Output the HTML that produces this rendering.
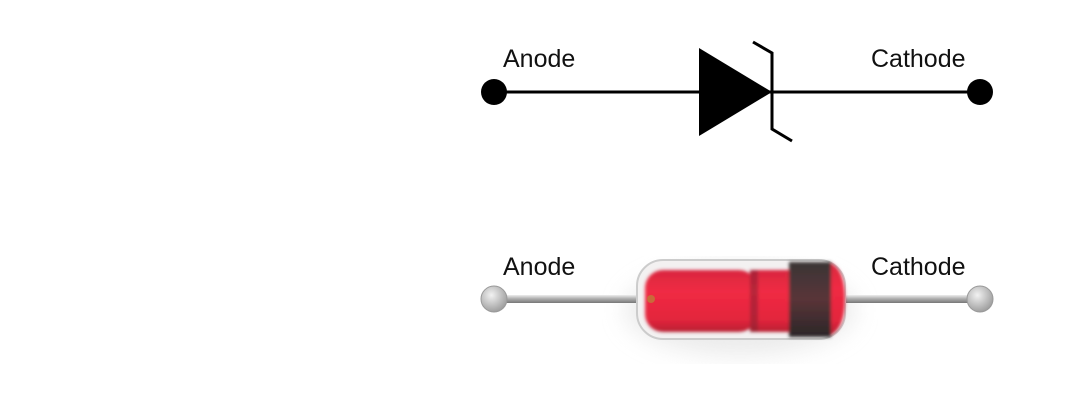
<!DOCTYPE html>
<html><head><style>
body{margin:0;background:#fff;width:1080px;height:400px;overflow:hidden}
text{font-family:"Liberation Sans",sans-serif;font-size:25px;fill:#111}
</style></head><body>
<svg width="1080" height="400" viewBox="0 0 1080 400">
<defs>
<linearGradient id="wire" x1="0" y1="0" x2="0" y2="1"><stop offset="0" stop-color="#eee"/><stop offset="0.5" stop-color="#aaa"/><stop offset="1" stop-color="#777"/></linearGradient>
<radialGradient id="ball" cx="0.4" cy="0.35" r="0.7"><stop offset="0" stop-color="#f2f2f2"/><stop offset="1" stop-color="#999"/></radialGradient>
<linearGradient id="red" x1="0" y1="0" x2="0" y2="1"><stop offset="0" stop-color="#d9283f"/><stop offset="0.35" stop-color="#f02a44"/><stop offset="0.8" stop-color="#e3253c"/><stop offset="1" stop-color="#b82233"/></linearGradient>
<linearGradient id="dark" x1="0" y1="0" x2="0" y2="1"><stop offset="0" stop-color="#3a3536"/><stop offset="0.5" stop-color="#5a3438"/><stop offset="1" stop-color="#2a2728"/></linearGradient>
<filter id="sh"><feGaussianBlur stdDeviation="12"/></filter>
<filter id="b1"><feGaussianBlur stdDeviation="1.5"/></filter>
</defs>
<text x="503" y="67">Anode</text>
<text x="871" y="67">Cathode</text>
<line x1="494" y1="92" x2="980" y2="92" stroke="#000" stroke-width="3"/>
<circle cx="494" cy="92" r="13" fill="#000"/>
<circle cx="980" cy="92" r="13" fill="#000"/>
<polygon points="699,48 699,136 772,92" fill="#000"/>
<polyline points="753,42 772,53 772,129 792,141" fill="none" stroke="#000" stroke-width="3"/>

<text x="503" y="275">Anode</text>
<text x="871" y="275">Cathode</text>
<ellipse cx="740" cy="310" rx="115" ry="45" fill="#ddd" filter="url(#sh)" opacity="0.6"/>
<rect x="494" y="295" width="486" height="8" fill="url(#wire)"/>
<circle cx="494" cy="299" r="13" fill="url(#ball)" stroke="#999" stroke-width="1"/>
<circle cx="980" cy="299" r="13" fill="url(#ball)" stroke="#999" stroke-width="1"/>
<rect x="637" y="260" width="208" height="79" rx="26" fill="#f3f1f1" stroke="#ccc" stroke-width="2"/>
<g filter="url(#b1)">
<rect x="645" y="270" width="112" height="62" rx="18" fill="url(#red)"/>
<rect x="750" y="270" width="42" height="62" fill="url(#red)"/>
<rect x="789" y="262" width="42" height="75" fill="url(#dark)"/>
<path d="M831,263 Q845,270 845,299 Q845,328 831,335 Z" fill="url(#red)"/>
<rect x="750" y="270" width="8" height="62" fill="#802030" opacity="0.5"/>
</g>
<circle cx="651" cy="299" r="4" fill="#c96a3a"/>
</svg>
</body></html>
